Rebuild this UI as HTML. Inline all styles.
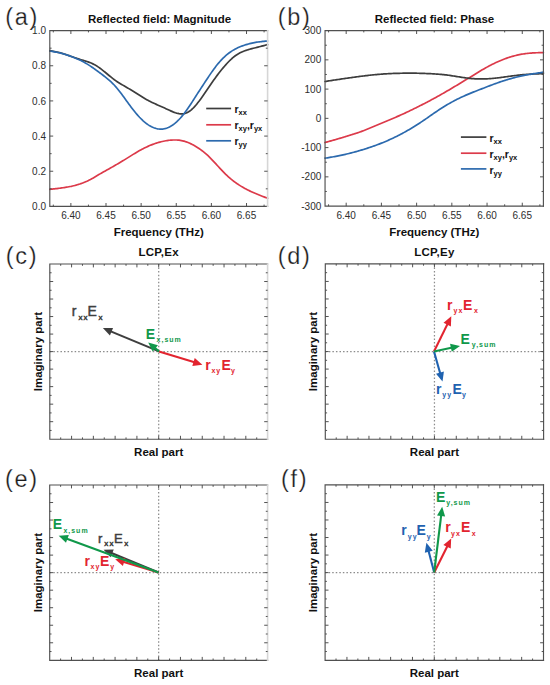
<!DOCTYPE html>
<html><head><meta charset="utf-8"><style>
html,body{margin:0;padding:0;background:#fff;width:550px;height:685px;overflow:hidden}
svg{display:block}
text{font-family:"Liberation Sans",sans-serif}
</style></head><body>
<svg width="550" height="685" viewBox="0 0 550 685">
<rect width="550" height="685" fill="#fff"/>
<text x="22.05" y="24.70" font-size="23.5" font-weight="normal" fill="#1c1c1c" text-anchor="middle" letter-spacing="1.7" stroke="#fff" stroke-width="0.25">(a)</text>
<text x="159.50" y="22.60" font-size="11.5" font-weight="bold" fill="#111" text-anchor="middle" >Reflected field: Magnitude</text>
<path d="M49.80 189.33 L51.00 189.20 L52.19 189.07 L53.39 188.94 L54.59 188.81 L55.78 188.68 L56.98 188.54 L58.18 188.39 L59.37 188.25 L60.57 188.09 L61.77 187.93 L62.96 187.77 L64.16 187.59 L65.36 187.40 L66.55 187.21 L67.75 187.00 L68.95 186.78 L70.14 186.54 L71.34 186.30 L72.54 186.03 L73.73 185.75 L74.93 185.45 L76.13 185.13 L77.32 184.79 L78.52 184.42 L79.72 184.04 L80.91 183.63 L82.11 183.20 L83.31 182.74 L84.50 182.26 L85.70 181.76 L86.90 181.23 L88.09 180.67 L89.29 180.08 L90.49 179.47 L91.68 178.82 L92.88 178.15 L94.08 177.46 L95.27 176.75 L96.47 176.03 L97.67 175.31 L98.86 174.60 L100.06 173.89 L101.26 173.20 L102.45 172.51 L103.65 171.83 L104.85 171.16 L106.05 170.49 L107.24 169.82 L108.44 169.15 L109.64 168.48 L110.83 167.80 L112.03 167.12 L113.23 166.44 L114.42 165.76 L115.62 165.07 L116.82 164.38 L118.01 163.68 L119.21 162.98 L120.41 162.27 L121.60 161.56 L122.80 160.84 L124.00 160.11 L125.19 159.37 L126.39 158.62 L127.59 157.87 L128.78 157.12 L129.98 156.37 L131.18 155.62 L132.37 154.87 L133.57 154.13 L134.77 153.40 L135.96 152.68 L137.16 151.98 L138.36 151.29 L139.55 150.61 L140.75 149.95 L141.95 149.30 L143.14 148.68 L144.34 148.07 L145.54 147.48 L146.73 146.91 L147.93 146.37 L149.13 145.84 L150.32 145.34 L151.52 144.85 L152.72 144.39 L153.91 143.95 L155.11 143.53 L156.31 143.14 L157.50 142.76 L158.70 142.41 L159.90 142.08 L161.09 141.77 L162.29 141.49 L163.49 141.22 L164.68 140.98 L165.88 140.77 L167.08 140.57 L168.27 140.41 L169.47 140.26 L170.67 140.15 L171.86 140.06 L173.06 140.00 L174.26 139.98 L175.45 139.98 L176.65 140.02 L177.85 140.09 L179.04 140.20 L180.24 140.36 L181.44 140.56 L182.63 140.80 L183.83 141.09 L185.03 141.44 L186.22 141.83 L187.42 142.27 L188.62 142.76 L189.81 143.29 L191.01 143.86 L192.21 144.47 L193.40 145.11 L194.60 145.78 L195.80 146.48 L196.99 147.21 L198.19 147.96 L199.39 148.75 L200.58 149.58 L201.78 150.45 L202.98 151.36 L204.17 152.31 L205.37 153.32 L206.57 154.37 L207.76 155.47 L208.96 156.63 L210.16 157.82 L211.35 159.05 L212.55 160.30 L213.75 161.58 L214.95 162.88 L216.14 164.18 L217.34 165.49 L218.54 166.80 L219.73 168.10 L220.93 169.39 L222.13 170.65 L223.32 171.90 L224.52 173.11 L225.72 174.28 L226.91 175.41 L228.11 176.51 L229.31 177.58 L230.50 178.61 L231.70 179.60 L232.90 180.56 L234.09 181.49 L235.29 182.38 L236.49 183.24 L237.68 184.08 L238.88 184.88 L240.08 185.65 L241.27 186.39 L242.47 187.10 L243.67 187.79 L244.86 188.45 L246.06 189.09 L247.26 189.70 L248.45 190.29 L249.65 190.87 L250.85 191.43 L252.04 191.97 L253.24 192.51 L254.44 193.03 L255.63 193.54 L256.83 194.04 L258.03 194.53 L259.22 195.01 L260.42 195.48 L261.62 195.95 L262.81 196.42 L264.01 196.88 L265.21 197.34 L266.40 197.79 L267.60 198.25" stroke="#dc3a4a" stroke-width="1.7" fill="none" stroke-linejoin="round" stroke-linecap="round"/>
<path d="M49.80 50.67 L51.00 50.89 L52.19 51.10 L53.39 51.33 L54.59 51.56 L55.78 51.80 L56.98 52.06 L58.18 52.33 L59.37 52.62 L60.57 52.94 L61.77 53.28 L62.96 53.64 L64.16 54.01 L65.36 54.40 L66.55 54.81 L67.75 55.22 L68.95 55.64 L70.14 56.06 L71.34 56.48 L72.54 56.90 L73.73 57.32 L74.93 57.73 L76.13 58.14 L77.32 58.54 L78.52 58.93 L79.72 59.32 L80.91 59.69 L82.11 60.05 L83.31 60.41 L84.50 60.78 L85.70 61.15 L86.90 61.53 L88.09 61.93 L89.29 62.36 L90.49 62.82 L91.68 63.32 L92.88 63.87 L94.08 64.47 L95.27 65.12 L96.47 65.83 L97.67 66.60 L98.86 67.42 L100.06 68.28 L101.26 69.18 L102.45 70.10 L103.65 71.05 L104.85 72.03 L106.05 73.01 L107.24 74.00 L108.44 74.99 L109.64 75.98 L110.83 76.96 L112.03 77.91 L113.23 78.84 L114.42 79.75 L115.62 80.61 L116.82 81.44 L118.01 82.23 L119.21 82.99 L120.41 83.72 L121.60 84.44 L122.80 85.14 L124.00 85.83 L125.19 86.52 L126.39 87.22 L127.59 87.92 L128.78 88.62 L129.98 89.33 L131.18 90.05 L132.37 90.77 L133.57 91.51 L134.77 92.25 L135.96 93.00 L137.16 93.76 L138.36 94.53 L139.55 95.30 L140.75 96.07 L141.95 96.82 L143.14 97.57 L144.34 98.29 L145.54 98.99 L146.73 99.66 L147.93 100.32 L149.13 100.95 L150.32 101.56 L151.52 102.15 L152.72 102.73 L153.91 103.29 L155.11 103.84 L156.31 104.38 L157.50 104.92 L158.70 105.45 L159.90 105.97 L161.09 106.50 L162.29 107.03 L163.49 107.56 L164.68 108.10 L165.88 108.65 L167.08 109.21 L168.27 109.77 L169.47 110.32 L170.67 110.86 L171.86 111.38 L173.06 111.88 L174.26 112.34 L175.45 112.76 L176.65 113.13 L177.85 113.45 L179.04 113.70 L180.24 113.86 L181.44 113.93 L182.63 113.89 L183.83 113.74 L185.03 113.47 L186.22 113.06 L187.42 112.51 L188.62 111.82 L189.81 111.00 L191.01 110.05 L192.21 109.00 L193.40 107.84 L194.60 106.58 L195.80 105.24 L196.99 103.83 L198.19 102.34 L199.39 100.79 L200.58 99.18 L201.78 97.52 L202.98 95.82 L204.17 94.09 L205.37 92.34 L206.57 90.58 L207.76 88.81 L208.96 87.04 L210.16 85.27 L211.35 83.52 L212.55 81.78 L213.75 80.07 L214.95 78.39 L216.14 76.73 L217.34 75.12 L218.54 73.54 L219.73 72.00 L220.93 70.49 L222.13 69.02 L223.32 67.59 L224.52 66.20 L225.72 64.84 L226.91 63.53 L228.11 62.26 L229.31 61.03 L230.50 59.86 L231.70 58.75 L232.90 57.70 L234.09 56.71 L235.29 55.80 L236.49 54.95 L237.68 54.18 L238.88 53.47 L240.08 52.83 L241.27 52.24 L242.47 51.70 L243.67 51.20 L244.86 50.75 L246.06 50.33 L247.26 49.94 L248.45 49.57 L249.65 49.23 L250.85 48.91 L252.04 48.60 L253.24 48.30 L254.44 48.00 L255.63 47.70 L256.83 47.41 L258.03 47.10 L259.22 46.80 L260.42 46.49 L261.62 46.18 L262.81 45.87 L264.01 45.56 L265.21 45.25 L266.40 44.93 L267.60 44.62" stroke="#3d3d3d" stroke-width="1.7" fill="none" stroke-linejoin="round" stroke-linecap="round"/>
<path d="M49.80 51.07 L51.00 51.26 L52.19 51.44 L53.39 51.64 L54.59 51.84 L55.78 52.05 L56.98 52.28 L58.18 52.52 L59.37 52.79 L60.57 53.07 L61.77 53.38 L62.96 53.71 L64.16 54.06 L65.36 54.44 L66.55 54.82 L67.75 55.23 L68.95 55.65 L70.14 56.08 L71.34 56.52 L72.54 56.97 L73.73 57.44 L74.93 57.92 L76.13 58.42 L77.32 58.93 L78.52 59.47 L79.72 60.02 L80.91 60.60 L82.11 61.21 L83.31 61.84 L84.50 62.49 L85.70 63.17 L86.90 63.88 L88.09 64.61 L89.29 65.38 L90.49 66.16 L91.68 66.97 L92.88 67.80 L94.08 68.64 L95.27 69.49 L96.47 70.34 L97.67 71.21 L98.86 72.08 L100.06 72.97 L101.26 73.87 L102.45 74.78 L103.65 75.71 L104.85 76.65 L106.05 77.60 L107.24 78.58 L108.44 79.59 L109.64 80.63 L110.83 81.71 L112.03 82.84 L113.23 84.03 L114.42 85.28 L115.62 86.60 L116.82 87.99 L118.01 89.44 L119.21 90.95 L120.41 92.51 L121.60 94.10 L122.80 95.72 L124.00 97.36 L125.19 99.01 L126.39 100.66 L127.59 102.30 L128.78 103.93 L129.98 105.55 L131.18 107.14 L132.37 108.71 L133.57 110.24 L134.77 111.74 L135.96 113.19 L137.16 114.60 L138.36 115.96 L139.55 117.27 L140.75 118.51 L141.95 119.70 L143.14 120.83 L144.34 121.88 L145.54 122.87 L146.73 123.79 L147.93 124.63 L149.13 125.40 L150.32 126.10 L151.52 126.73 L152.72 127.29 L153.91 127.78 L155.11 128.19 L156.31 128.53 L157.50 128.80 L158.70 128.99 L159.90 129.09 L161.09 129.12 L162.29 129.06 L163.49 128.92 L164.68 128.69 L165.88 128.38 L167.08 127.99 L168.27 127.51 L169.47 126.95 L170.67 126.31 L171.86 125.58 L173.06 124.76 L174.26 123.87 L175.45 122.89 L176.65 121.84 L177.85 120.70 L179.04 119.49 L180.24 118.21 L181.44 116.85 L182.63 115.41 L183.83 113.91 L185.03 112.35 L186.22 110.72 L187.42 109.04 L188.62 107.30 L189.81 105.51 L191.01 103.69 L192.21 101.85 L193.40 99.98 L194.60 98.11 L195.80 96.25 L196.99 94.39 L198.19 92.54 L199.39 90.69 L200.58 88.85 L201.78 87.01 L202.98 85.18 L204.17 83.36 L205.37 81.54 L206.57 79.72 L207.76 77.91 L208.96 76.12 L210.16 74.36 L211.35 72.62 L212.55 70.92 L213.75 69.26 L214.95 67.64 L216.14 66.08 L217.34 64.58 L218.54 63.13 L219.73 61.74 L220.93 60.41 L222.13 59.13 L223.32 57.92 L224.52 56.77 L225.72 55.69 L226.91 54.66 L228.11 53.70 L229.31 52.79 L230.50 51.94 L231.70 51.13 L232.90 50.38 L234.09 49.68 L235.29 49.02 L236.49 48.40 L237.68 47.83 L238.88 47.29 L240.08 46.78 L241.27 46.31 L242.47 45.86 L243.67 45.44 L244.86 45.05 L246.06 44.67 L247.26 44.32 L248.45 43.99 L249.65 43.67 L250.85 43.38 L252.04 43.11 L253.24 42.85 L254.44 42.62 L255.63 42.40 L256.83 42.21 L258.03 42.03 L259.22 41.87 L260.42 41.72 L261.62 41.58 L262.81 41.45 L264.01 41.34 L265.21 41.22 L266.40 41.11 L267.60 41.01" stroke="#2c6aae" stroke-width="1.7" fill="none" stroke-linejoin="round" stroke-linecap="round"/>
<path d="M267.60 30.60H49.80V206.40H267.60" fill="none" stroke="#505050" stroke-width="1.15" stroke-linecap="square"/>
<path d="M267.60 29.95V207.05" fill="none" stroke="#d6d6d6" stroke-width="1.6"/>
<path d="M53.31 206.40V204.60M53.31 30.60V32.40M70.88 206.40V203.00M70.88 30.60V34.00M88.44 206.40V204.60M88.44 30.60V32.40M106.01 206.40V203.00M106.01 30.60V34.00M123.57 206.40V204.60M123.57 30.60V32.40M141.14 206.40V203.00M141.14 30.60V34.00M158.70 206.40V204.60M158.70 30.60V32.40M176.26 206.40V203.00M176.26 30.60V34.00M193.83 206.40V204.60M193.83 30.60V32.40M211.39 206.40V203.00M211.39 30.60V34.00M228.96 206.40V204.60M228.96 30.60V32.40M246.52 206.40V203.00M246.52 30.60V34.00M264.09 206.40V204.60M264.09 30.60V32.40" stroke="#4a4a4a" stroke-width="0.95" fill="none"/>
<path d="M49.80 188.82H51.60M267.60 188.82H265.80M49.80 171.24H53.20M267.60 171.24H264.20M49.80 153.66H51.60M267.60 153.66H265.80M49.80 136.08H53.20M267.60 136.08H264.20M49.80 118.50H51.60M267.60 118.50H265.80M49.80 100.92H53.20M267.60 100.92H264.20M49.80 83.34H51.60M267.60 83.34H265.80M49.80 65.76H53.20M267.60 65.76H264.20M49.80 48.18H51.60M267.60 48.18H265.80" stroke="#4a4a4a" stroke-width="0.95" fill="none"/>
<text x="46.00" y="210.00" font-size="10" font-weight="normal" fill="#2e2e2e" text-anchor="end" >0.0</text>
<text x="46.00" y="174.84" font-size="10" font-weight="normal" fill="#2e2e2e" text-anchor="end" >0.2</text>
<text x="46.00" y="139.68" font-size="10" font-weight="normal" fill="#2e2e2e" text-anchor="end" >0.4</text>
<text x="46.00" y="104.52" font-size="10" font-weight="normal" fill="#2e2e2e" text-anchor="end" >0.6</text>
<text x="46.00" y="69.36" font-size="10" font-weight="normal" fill="#2e2e2e" text-anchor="end" >0.8</text>
<text x="46.00" y="34.20" font-size="10" font-weight="normal" fill="#2e2e2e" text-anchor="end" >1.0</text>
<text x="70.88" y="218.60" font-size="10" font-weight="normal" fill="#2e2e2e" text-anchor="middle" >6.40</text>
<text x="106.01" y="218.60" font-size="10" font-weight="normal" fill="#2e2e2e" text-anchor="middle" >6.45</text>
<text x="141.14" y="218.60" font-size="10" font-weight="normal" fill="#2e2e2e" text-anchor="middle" >6.50</text>
<text x="176.26" y="218.60" font-size="10" font-weight="normal" fill="#2e2e2e" text-anchor="middle" >6.55</text>
<text x="211.39" y="218.60" font-size="10" font-weight="normal" fill="#2e2e2e" text-anchor="middle" >6.60</text>
<text x="246.52" y="218.60" font-size="10" font-weight="normal" fill="#2e2e2e" text-anchor="middle" >6.65</text>
<text x="158.70" y="236.40" font-size="11.5" font-weight="bold" fill="#111" text-anchor="middle" >Frequency (THz)</text>
<path d="M206.2 108.5H231.1" stroke="#3d3d3d" stroke-width="1.7"/>
<path d="M206.2 124.8H231.1" stroke="#dc3a4a" stroke-width="1.7"/>
<path d="M206.2 140.8H231.1" stroke="#2c6aae" stroke-width="1.7"/>
<text y="112.60" font-size="10.5" font-weight="bold" fill="#111"><tspan x="234.5">r</tspan><tspan font-size="7.5" dy="2.3">xx</tspan></text>
<text y="128.90" font-size="10.5" font-weight="bold" fill="#111"><tspan x="234.5">r</tspan><tspan font-size="7.5" dy="2.3">xy</tspan><tspan dy="-2.3">,r</tspan><tspan font-size="7.5" dy="2.3">yx</tspan></text>
<text y="144.90" font-size="10.5" font-weight="bold" fill="#111"><tspan x="234.5">r</tspan><tspan font-size="7.5" dy="2.3">yy</tspan></text>
<text x="294.55" y="24.70" font-size="23.5" font-weight="normal" fill="#1c1c1c" text-anchor="middle" letter-spacing="1.7" stroke="#fff" stroke-width="0.25">(b)</text>
<text x="434.50" y="22.60" font-size="11.5" font-weight="bold" fill="#111" text-anchor="middle" >Reflected field: Phase</text>
<path d="M325.05 142.53 L326.25 142.19 L327.45 141.86 L328.65 141.52 L329.85 141.18 L331.05 140.84 L332.25 140.50 L333.45 140.16 L334.65 139.82 L335.85 139.48 L337.05 139.13 L338.25 138.78 L339.45 138.43 L340.65 138.08 L341.85 137.73 L343.05 137.38 L344.25 137.02 L345.45 136.66 L346.65 136.29 L347.84 135.92 L349.04 135.55 L350.24 135.18 L351.44 134.80 L352.64 134.42 L353.84 134.03 L355.04 133.64 L356.24 133.24 L357.44 132.84 L358.64 132.43 L359.84 132.01 L361.04 131.59 L362.24 131.15 L363.44 130.70 L364.64 130.25 L365.84 129.78 L367.04 129.30 L368.24 128.82 L369.44 128.33 L370.64 127.83 L371.84 127.33 L373.04 126.82 L374.24 126.31 L375.44 125.80 L376.64 125.29 L377.84 124.77 L379.04 124.26 L380.24 123.75 L381.44 123.24 L382.64 122.73 L383.84 122.22 L385.04 121.71 L386.24 121.21 L387.44 120.70 L388.64 120.20 L389.84 119.69 L391.03 119.19 L392.23 118.69 L393.43 118.18 L394.63 117.67 L395.83 117.16 L397.03 116.65 L398.23 116.13 L399.43 115.61 L400.63 115.07 L401.83 114.54 L403.03 113.99 L404.23 113.44 L405.43 112.88 L406.63 112.31 L407.83 111.74 L409.03 111.17 L410.23 110.59 L411.43 110.01 L412.63 109.42 L413.83 108.83 L415.03 108.24 L416.23 107.65 L417.43 107.05 L418.63 106.45 L419.83 105.85 L421.03 105.24 L422.23 104.63 L423.43 104.02 L424.63 103.40 L425.83 102.78 L427.03 102.15 L428.23 101.52 L429.43 100.89 L430.63 100.25 L431.83 99.61 L433.03 98.96 L434.23 98.31 L435.42 97.65 L436.62 96.99 L437.82 96.33 L439.02 95.66 L440.22 94.98 L441.42 94.31 L442.62 93.62 L443.82 92.94 L445.02 92.25 L446.22 91.55 L447.42 90.85 L448.62 90.15 L449.82 89.45 L451.02 88.74 L452.22 88.03 L453.42 87.32 L454.62 86.60 L455.82 85.89 L457.02 85.17 L458.22 84.45 L459.42 83.72 L460.62 83.00 L461.82 82.28 L463.02 81.55 L464.22 80.82 L465.42 80.09 L466.62 79.36 L467.82 78.63 L469.02 77.89 L470.22 77.16 L471.42 76.42 L472.62 75.68 L473.82 74.94 L475.02 74.20 L476.22 73.46 L477.42 72.73 L478.61 72.00 L479.81 71.28 L481.01 70.56 L482.21 69.85 L483.41 69.15 L484.61 68.47 L485.81 67.79 L487.01 67.12 L488.21 66.47 L489.41 65.83 L490.61 65.20 L491.81 64.58 L493.01 63.98 L494.21 63.39 L495.41 62.82 L496.61 62.26 L497.81 61.72 L499.01 61.19 L500.21 60.67 L501.41 60.17 L502.61 59.69 L503.81 59.23 L505.01 58.78 L506.21 58.34 L507.41 57.92 L508.61 57.52 L509.81 57.14 L511.01 56.77 L512.21 56.42 L513.41 56.08 L514.61 55.76 L515.81 55.46 L517.01 55.18 L518.21 54.91 L519.41 54.66 L520.61 54.42 L521.80 54.20 L523.00 54.00 L524.20 53.81 L525.40 53.64 L526.60 53.49 L527.80 53.35 L529.00 53.23 L530.20 53.12 L531.40 53.03 L532.60 52.95 L533.80 52.88 L535.00 52.82 L536.20 52.77 L537.40 52.73 L538.60 52.69 L539.80 52.66 L541.00 52.63 L542.20 52.60 L543.40 52.58" stroke="#dc3a4a" stroke-width="1.7" fill="none" stroke-linejoin="round" stroke-linecap="round"/>
<path d="M325.05 81.49 L326.25 81.31 L327.45 81.12 L328.65 80.94 L329.85 80.76 L331.05 80.58 L332.25 80.39 L333.45 80.21 L334.65 80.03 L335.85 79.85 L337.05 79.67 L338.25 79.49 L339.45 79.31 L340.65 79.13 L341.85 78.96 L343.05 78.78 L344.25 78.61 L345.45 78.43 L346.65 78.26 L347.84 78.09 L349.04 77.91 L350.24 77.74 L351.44 77.58 L352.64 77.41 L353.84 77.24 L355.04 77.08 L356.24 76.91 L357.44 76.75 L358.64 76.59 L359.84 76.44 L361.04 76.28 L362.24 76.13 L363.44 75.98 L364.64 75.83 L365.84 75.69 L367.04 75.54 L368.24 75.41 L369.44 75.27 L370.64 75.14 L371.84 75.01 L373.04 74.89 L374.24 74.76 L375.44 74.65 L376.64 74.54 L377.84 74.43 L379.04 74.33 L380.24 74.23 L381.44 74.13 L382.64 74.05 L383.84 73.96 L385.04 73.88 L386.24 73.81 L387.44 73.74 L388.64 73.68 L389.84 73.62 L391.03 73.56 L392.23 73.51 L393.43 73.46 L394.63 73.42 L395.83 73.38 L397.03 73.34 L398.23 73.31 L399.43 73.28 L400.63 73.25 L401.83 73.23 L403.03 73.21 L404.23 73.19 L405.43 73.18 L406.63 73.17 L407.83 73.17 L409.03 73.16 L410.23 73.17 L411.43 73.17 L412.63 73.18 L413.83 73.19 L415.03 73.20 L416.23 73.22 L417.43 73.24 L418.63 73.27 L419.83 73.30 L421.03 73.33 L422.23 73.37 L423.43 73.40 L424.63 73.45 L425.83 73.49 L427.03 73.54 L428.23 73.59 L429.43 73.64 L430.63 73.70 L431.83 73.77 L433.03 73.83 L434.23 73.90 L435.42 73.98 L436.62 74.06 L437.82 74.15 L439.02 74.24 L440.22 74.34 L441.42 74.45 L442.62 74.56 L443.82 74.69 L445.02 74.82 L446.22 74.96 L447.42 75.10 L448.62 75.26 L449.82 75.43 L451.02 75.60 L452.22 75.79 L453.42 75.97 L454.62 76.16 L455.82 76.36 L457.02 76.55 L458.22 76.75 L459.42 76.94 L460.62 77.14 L461.82 77.33 L463.02 77.51 L464.22 77.69 L465.42 77.86 L466.62 78.02 L467.82 78.17 L469.02 78.31 L470.22 78.43 L471.42 78.54 L472.62 78.64 L473.82 78.72 L475.02 78.80 L476.22 78.86 L477.42 78.90 L478.61 78.94 L479.81 78.96 L481.01 78.97 L482.21 78.96 L483.41 78.94 L484.61 78.91 L485.81 78.87 L487.01 78.82 L488.21 78.75 L489.41 78.68 L490.61 78.59 L491.81 78.49 L493.01 78.39 L494.21 78.27 L495.41 78.15 L496.61 78.02 L497.81 77.88 L499.01 77.73 L500.21 77.58 L501.41 77.43 L502.61 77.26 L503.81 77.10 L505.01 76.93 L506.21 76.76 L507.41 76.60 L508.61 76.43 L509.81 76.26 L511.01 76.10 L512.21 75.93 L513.41 75.78 L514.61 75.62 L515.81 75.48 L517.01 75.34 L518.21 75.20 L519.41 75.07 L520.61 74.95 L521.80 74.83 L523.00 74.72 L524.20 74.61 L525.40 74.51 L526.60 74.42 L527.80 74.33 L529.00 74.25 L530.20 74.18 L531.40 74.11 L532.60 74.04 L533.80 73.98 L535.00 73.93 L536.20 73.88 L537.40 73.83 L538.60 73.78 L539.80 73.74 L541.00 73.69 L542.20 73.65 L543.40 73.61" stroke="#3d3d3d" stroke-width="1.7" fill="none" stroke-linejoin="round" stroke-linecap="round"/>
<path d="M325.05 158.20 L326.25 158.00 L327.45 157.80 L328.65 157.60 L329.85 157.39 L331.05 157.18 L332.25 156.97 L333.45 156.76 L334.65 156.54 L335.85 156.32 L337.05 156.09 L338.25 155.85 L339.45 155.61 L340.65 155.37 L341.85 155.11 L343.05 154.85 L344.25 154.59 L345.45 154.31 L346.65 154.03 L347.84 153.75 L349.04 153.46 L350.24 153.16 L351.44 152.85 L352.64 152.54 L353.84 152.22 L355.04 151.90 L356.24 151.57 L357.44 151.23 L358.64 150.89 L359.84 150.54 L361.04 150.18 L362.24 149.82 L363.44 149.46 L364.64 149.08 L365.84 148.70 L367.04 148.32 L368.24 147.93 L369.44 147.53 L370.64 147.13 L371.84 146.72 L373.04 146.30 L374.24 145.88 L375.44 145.44 L376.64 145.00 L377.84 144.56 L379.04 144.10 L380.24 143.64 L381.44 143.16 L382.64 142.68 L383.84 142.19 L385.04 141.69 L386.24 141.18 L387.44 140.66 L388.64 140.13 L389.84 139.59 L391.03 139.04 L392.23 138.48 L393.43 137.92 L394.63 137.34 L395.83 136.76 L397.03 136.16 L398.23 135.56 L399.43 134.94 L400.63 134.32 L401.83 133.68 L403.03 133.04 L404.23 132.38 L405.43 131.72 L406.63 131.04 L407.83 130.35 L409.03 129.66 L410.23 128.95 L411.43 128.23 L412.63 127.51 L413.83 126.77 L415.03 126.03 L416.23 125.27 L417.43 124.51 L418.63 123.74 L419.83 122.95 L421.03 122.16 L422.23 121.36 L423.43 120.56 L424.63 119.74 L425.83 118.92 L427.03 118.09 L428.23 117.25 L429.43 116.41 L430.63 115.57 L431.83 114.74 L433.03 113.90 L434.23 113.07 L435.42 112.25 L436.62 111.43 L437.82 110.63 L439.02 109.83 L440.22 109.05 L441.42 108.28 L442.62 107.52 L443.82 106.77 L445.02 106.03 L446.22 105.31 L447.42 104.59 L448.62 103.89 L449.82 103.21 L451.02 102.53 L452.22 101.87 L453.42 101.22 L454.62 100.59 L455.82 99.97 L457.02 99.36 L458.22 98.76 L459.42 98.17 L460.62 97.60 L461.82 97.03 L463.02 96.48 L464.22 95.93 L465.42 95.40 L466.62 94.87 L467.82 94.36 L469.02 93.85 L470.22 93.35 L471.42 92.86 L472.62 92.37 L473.82 91.89 L475.02 91.42 L476.22 90.95 L477.42 90.48 L478.61 90.02 L479.81 89.55 L481.01 89.09 L482.21 88.63 L483.41 88.17 L484.61 87.71 L485.81 87.25 L487.01 86.79 L488.21 86.33 L489.41 85.87 L490.61 85.42 L491.81 84.96 L493.01 84.51 L494.21 84.07 L495.41 83.63 L496.61 83.19 L497.81 82.76 L499.01 82.34 L500.21 81.92 L501.41 81.52 L502.61 81.12 L503.81 80.73 L505.01 80.34 L506.21 79.97 L507.41 79.61 L508.61 79.25 L509.81 78.90 L511.01 78.56 L512.21 78.23 L513.41 77.91 L514.61 77.60 L515.81 77.30 L517.01 77.00 L518.21 76.72 L519.41 76.44 L520.61 76.17 L521.80 75.91 L523.00 75.66 L524.20 75.41 L525.40 75.18 L526.60 74.94 L527.80 74.72 L529.00 74.50 L530.20 74.29 L531.40 74.08 L532.60 73.88 L533.80 73.68 L535.00 73.49 L536.20 73.30 L537.40 73.12 L538.60 72.93 L539.80 72.75 L541.00 72.57 L542.20 72.39 L543.40 72.21" stroke="#2c6aae" stroke-width="1.7" fill="none" stroke-linejoin="round" stroke-linecap="round"/>
<path d="M543.40 30.60H325.05V206.10H543.40" fill="none" stroke="#505050" stroke-width="1.15" stroke-linecap="square"/>
<path d="M543.40 29.95V206.75" fill="none" stroke="#505050" stroke-width="1.15"/>
<path d="M328.57 206.10V204.30M328.57 30.60V32.40M346.18 206.10V202.70M346.18 30.60V34.00M363.79 206.10V204.30M363.79 30.60V32.40M381.40 206.10V202.70M381.40 30.60V34.00M399.01 206.10V204.30M399.01 30.60V32.40M416.62 206.10V202.70M416.62 30.60V34.00M434.23 206.10V204.30M434.23 30.60V32.40M451.83 206.10V202.70M451.83 30.60V34.00M469.44 206.10V204.30M469.44 30.60V32.40M487.05 206.10V202.70M487.05 30.60V34.00M504.66 206.10V204.30M504.66 30.60V32.40M522.27 206.10V202.70M522.27 30.60V34.00M539.88 206.10V204.30M539.88 30.60V32.40" stroke="#4a4a4a" stroke-width="0.95" fill="none"/>
<path d="M325.05 191.47H326.85M543.40 191.47H541.60M325.05 176.85H328.45M543.40 176.85H540.00M325.05 162.22H326.85M543.40 162.22H541.60M325.05 147.60H328.45M543.40 147.60H540.00M325.05 132.97H326.85M543.40 132.97H541.60M325.05 118.35H328.45M543.40 118.35H540.00M325.05 103.72H326.85M543.40 103.72H541.60M325.05 89.10H328.45M543.40 89.10H540.00M325.05 74.47H326.85M543.40 74.47H541.60M325.05 59.85H328.45M543.40 59.85H540.00M325.05 45.22H326.85M543.40 45.22H541.60" stroke="#4a4a4a" stroke-width="0.95" fill="none"/>
<text x="321.25" y="209.70" font-size="10" font-weight="normal" fill="#2e2e2e" text-anchor="end" >-300</text>
<text x="321.25" y="180.45" font-size="10" font-weight="normal" fill="#2e2e2e" text-anchor="end" >-200</text>
<text x="321.25" y="151.20" font-size="10" font-weight="normal" fill="#2e2e2e" text-anchor="end" >-100</text>
<text x="321.25" y="121.95" font-size="10" font-weight="normal" fill="#2e2e2e" text-anchor="end" >0</text>
<text x="321.25" y="92.70" font-size="10" font-weight="normal" fill="#2e2e2e" text-anchor="end" >100</text>
<text x="321.25" y="63.45" font-size="10" font-weight="normal" fill="#2e2e2e" text-anchor="end" >200</text>
<text x="321.25" y="34.20" font-size="10" font-weight="normal" fill="#2e2e2e" text-anchor="end" >300</text>
<text x="346.18" y="218.60" font-size="10" font-weight="normal" fill="#2e2e2e" text-anchor="middle" >6.40</text>
<text x="381.40" y="218.60" font-size="10" font-weight="normal" fill="#2e2e2e" text-anchor="middle" >6.45</text>
<text x="416.62" y="218.60" font-size="10" font-weight="normal" fill="#2e2e2e" text-anchor="middle" >6.50</text>
<text x="451.83" y="218.60" font-size="10" font-weight="normal" fill="#2e2e2e" text-anchor="middle" >6.55</text>
<text x="487.05" y="218.60" font-size="10" font-weight="normal" fill="#2e2e2e" text-anchor="middle" >6.60</text>
<text x="522.27" y="218.60" font-size="10" font-weight="normal" fill="#2e2e2e" text-anchor="middle" >6.65</text>
<text x="434.23" y="236.40" font-size="11.5" font-weight="bold" fill="#111" text-anchor="middle" >Frequency (THz)</text>
<path d="M460.9 137.1H486.4" stroke="#3d3d3d" stroke-width="1.7"/>
<path d="M460.9 153.2H486.4" stroke="#dc3a4a" stroke-width="1.7"/>
<path d="M460.9 168.9H486.4" stroke="#2c6aae" stroke-width="1.7"/>
<text y="141.70" font-size="10.5" font-weight="bold" fill="#111"><tspan x="489.5">r</tspan><tspan font-size="7.5" dy="2.3">xx</tspan></text>
<text y="157.80" font-size="10.5" font-weight="bold" fill="#111"><tspan x="489.5">r</tspan><tspan font-size="7.5" dy="2.3">xy</tspan><tspan dy="-2.3">,r</tspan><tspan font-size="7.5" dy="2.3">yx</tspan></text>
<text y="173.50" font-size="10.5" font-weight="bold" fill="#111"><tspan x="489.5">r</tspan><tspan font-size="7.5" dy="2.3">yy</tspan></text>
<text x="22.05" y="264.00" font-size="23.5" font-weight="normal" fill="#1c1c1c" text-anchor="middle" letter-spacing="1.7" stroke="#fff" stroke-width="0.25">(c)</text>
<text x="158.70" y="255.60" font-size="11.5" font-weight="bold" fill="#111" text-anchor="middle" letter-spacing="0.3">LCP,Ex</text>
<path d="M158.70 264.00V439.20M49.80 351.60H267.60" stroke="#8c8c8c" stroke-width="1.25" stroke-dasharray="1.5 2.05" fill="none"/>
<path d="M267.60 264.00H49.80V439.20H267.60" fill="none" stroke="#505050" stroke-width="1.15" stroke-linecap="square"/>
<path d="M267.60 263.35V439.85" fill="none" stroke="#d6d6d6" stroke-width="1.6"/>
<path d="M60.69 439.20V437.40M60.69 264.00V265.80M71.58 439.20V435.80M71.58 264.00V267.40M82.47 439.20V437.40M82.47 264.00V265.80M93.36 439.20V435.80M93.36 264.00V267.40M104.25 439.20V437.40M104.25 264.00V265.80M115.14 439.20V435.80M115.14 264.00V267.40M126.03 439.20V437.40M126.03 264.00V265.80M136.92 439.20V435.80M136.92 264.00V267.40M147.81 439.20V437.40M147.81 264.00V265.80M158.70 439.20V435.80M158.70 264.00V267.40M169.59 439.20V437.40M169.59 264.00V265.80M180.48 439.20V435.80M180.48 264.00V267.40M191.37 439.20V437.40M191.37 264.00V265.80M202.26 439.20V435.80M202.26 264.00V267.40M213.15 439.20V437.40M213.15 264.00V265.80M224.04 439.20V435.80M224.04 264.00V267.40M234.93 439.20V437.40M234.93 264.00V265.80M245.82 439.20V435.80M245.82 264.00V267.40M256.71 439.20V437.40M256.71 264.00V265.80" stroke="#4a4a4a" stroke-width="0.95" fill="none"/>
<path d="M49.80 272.76H51.60M267.60 272.76H265.80M49.80 281.52H53.20M267.60 281.52H264.20M49.80 290.28H51.60M267.60 290.28H265.80M49.80 299.04H53.20M267.60 299.04H264.20M49.80 307.80H51.60M267.60 307.80H265.80M49.80 316.56H53.20M267.60 316.56H264.20M49.80 325.32H51.60M267.60 325.32H265.80M49.80 334.08H53.20M267.60 334.08H264.20M49.80 342.84H51.60M267.60 342.84H265.80M49.80 351.60H53.20M267.60 351.60H264.20M49.80 360.36H51.60M267.60 360.36H265.80M49.80 369.12H53.20M267.60 369.12H264.20M49.80 377.88H51.60M267.60 377.88H265.80M49.80 386.64H53.20M267.60 386.64H264.20M49.80 395.40H51.60M267.60 395.40H265.80M49.80 404.16H53.20M267.60 404.16H264.20M49.80 412.92H51.60M267.60 412.92H265.80M49.80 421.68H53.20M267.60 421.68H264.20M49.80 430.44H51.60M267.60 430.44H265.80" stroke="#4a4a4a" stroke-width="0.95" fill="none"/>
<text x="158.70" y="455.80" font-size="11.5" font-weight="bold" fill="#111" text-anchor="middle" >Real part</text>
<text transform="translate(41.80,351.60) rotate(-90)" x="0" y="0" font-size="11.5" font-weight="bold" fill="#111" text-anchor="middle">Imaginary part</text>
<path d="M159.00 351.40L108.91 330.60" stroke="#3e3e3e" stroke-width="2.1" fill="none"/>
<path d="M102.90 328.10L113.06 327.88L109.92 335.45Z" fill="#3e3e3e"/>
<path d="M159.00 351.40L196.18 362.79" stroke="#e2242f" stroke-width="2.1" fill="none"/>
<path d="M202.40 364.70L192.31 365.90L194.71 358.06Z" fill="#e2242f"/>
<path d="M159.00 351.40L153.20 346.57" stroke="#10984a" stroke-width="2.1" fill="none"/>
<path d="M148.20 342.40L157.97 345.20L152.72 351.50Z" fill="#10984a"/>
<text x="71.80" y="316.40" font-size="14" font-weight="normal" fill="#3e3e3e" stroke="#3e3e3e" stroke-width="0.45">r</text>
<text x="78.40" y="319.80" font-size="8" font-weight="normal" fill="#3e3e3e" letter-spacing="1.1" stroke="#3e3e3e" stroke-width="0.45">xx</text>
<text x="87.60" y="316.40" font-size="14" font-weight="normal" fill="#3e3e3e" stroke="#3e3e3e" stroke-width="0.45">E</text>
<text x="98.40" y="319.80" font-size="8" font-weight="normal" fill="#3e3e3e" letter-spacing="1.1" stroke="#3e3e3e" stroke-width="0.45">x</text>
<text x="145.80" y="338.80" font-size="14" font-weight="bold" fill="#10984a">E</text>
<text x="156.60" y="342.20" font-size="7" font-weight="bold" fill="#10984a" letter-spacing="1.0">x,sum</text>
<text x="205.30" y="369.60" font-size="14" font-weight="bold" fill="#e2242f">r</text>
<text x="211.40" y="373.00" font-size="7" font-weight="bold" fill="#e2242f" letter-spacing="1.0">xy</text>
<text x="221.50" y="369.60" font-size="14" font-weight="bold" fill="#e2242f">E</text>
<text x="231.10" y="373.00" font-size="7" font-weight="bold" fill="#e2242f" letter-spacing="1.0">y</text>
<text x="294.55" y="264.20" font-size="23.5" font-weight="normal" fill="#1c1c1c" text-anchor="middle" letter-spacing="1.7" stroke="#fff" stroke-width="0.25">(d)</text>
<text x="434.45" y="255.50" font-size="11.5" font-weight="bold" fill="#111" text-anchor="middle" letter-spacing="0.3">LCP,Ey</text>
<path d="M434.45 263.90V439.20M325.30 351.55H543.60" stroke="#8c8c8c" stroke-width="1.25" stroke-dasharray="1.5 2.05" fill="none"/>
<path d="M543.60 263.90H325.30V439.20H543.60" fill="none" stroke="#505050" stroke-width="1.15" stroke-linecap="square"/>
<path d="M543.60 263.25V439.85" fill="none" stroke="#505050" stroke-width="1.15"/>
<path d="M336.22 439.20V437.40M336.22 263.90V265.70M347.13 439.20V435.80M347.13 263.90V267.30M358.05 439.20V437.40M358.05 263.90V265.70M368.96 439.20V435.80M368.96 263.90V267.30M379.88 439.20V437.40M379.88 263.90V265.70M390.79 439.20V435.80M390.79 263.90V267.30M401.71 439.20V437.40M401.71 263.90V265.70M412.62 439.20V435.80M412.62 263.90V267.30M423.54 439.20V437.40M423.54 263.90V265.70M434.45 439.20V435.80M434.45 263.90V267.30M445.37 439.20V437.40M445.37 263.90V265.70M456.28 439.20V435.80M456.28 263.90V267.30M467.20 439.20V437.40M467.20 263.90V265.70M478.11 439.20V435.80M478.11 263.90V267.30M489.02 439.20V437.40M489.02 263.90V265.70M499.94 439.20V435.80M499.94 263.90V267.30M510.86 439.20V437.40M510.86 263.90V265.70M521.77 439.20V435.80M521.77 263.90V267.30M532.68 439.20V437.40M532.68 263.90V265.70" stroke="#4a4a4a" stroke-width="0.95" fill="none"/>
<path d="M325.30 272.66H327.10M543.60 272.66H541.80M325.30 281.43H328.70M543.60 281.43H540.20M325.30 290.19H327.10M543.60 290.19H541.80M325.30 298.96H328.70M543.60 298.96H540.20M325.30 307.72H327.10M543.60 307.72H541.80M325.30 316.49H328.70M543.60 316.49H540.20M325.30 325.25H327.10M543.60 325.25H541.80M325.30 334.02H328.70M543.60 334.02H540.20M325.30 342.78H327.10M543.60 342.78H541.80M325.30 351.55H328.70M543.60 351.55H540.20M325.30 360.31H327.10M543.60 360.31H541.80M325.30 369.08H328.70M543.60 369.08H540.20M325.30 377.84H327.10M543.60 377.84H541.80M325.30 386.61H328.70M543.60 386.61H540.20M325.30 395.38H327.10M543.60 395.38H541.80M325.30 404.14H328.70M543.60 404.14H540.20M325.30 412.90H327.10M543.60 412.90H541.80M325.30 421.67H328.70M543.60 421.67H540.20M325.30 430.44H327.10M543.60 430.44H541.80" stroke="#4a4a4a" stroke-width="0.95" fill="none"/>
<text x="434.45" y="455.80" font-size="11.5" font-weight="bold" fill="#111" text-anchor="middle" >Real part</text>
<text transform="translate(317.30,351.55) rotate(-90)" x="0" y="0" font-size="11.5" font-weight="bold" fill="#111" text-anchor="middle">Imaginary part</text>
<path d="M434.00 351.50L440.73 375.24" stroke="#1f62b0" stroke-width="2.1" fill="none"/>
<path d="M442.50 381.50L436.02 373.67L443.91 371.43Z" fill="#1f62b0"/>
<path d="M434.00 351.50L448.43 322.14" stroke="#e2242f" stroke-width="2.1" fill="none"/>
<path d="M451.30 316.30L450.88 326.45L443.52 322.84Z" fill="#e2242f"/>
<path d="M434.00 351.50L453.64 347.27" stroke="#10984a" stroke-width="2.1" fill="none"/>
<path d="M460.00 345.90L451.77 351.87L450.05 343.85Z" fill="#10984a"/>
<text x="446.90" y="309.70" font-size="14" font-weight="bold" fill="#e2242f">r</text>
<text x="453.60" y="313.10" font-size="7" font-weight="bold" fill="#e2242f" letter-spacing="1.0">yx</text>
<text x="463.00" y="309.70" font-size="14" font-weight="bold" fill="#e2242f">E</text>
<text x="474.00" y="313.10" font-size="7" font-weight="bold" fill="#e2242f" letter-spacing="1.0">x</text>
<text x="460.60" y="343.50" font-size="14" font-weight="bold" fill="#10984a">E</text>
<text x="471.80" y="346.90" font-size="7" font-weight="bold" fill="#10984a" letter-spacing="1.0">y,sum</text>
<text x="435.90" y="393.90" font-size="14" font-weight="bold" fill="#1f62b0">r</text>
<text x="442.30" y="397.30" font-size="7" font-weight="bold" fill="#1f62b0" letter-spacing="1.0">yy</text>
<text x="452.40" y="393.90" font-size="14" font-weight="bold" fill="#1f62b0">E</text>
<text x="461.90" y="397.30" font-size="7" font-weight="bold" fill="#1f62b0" letter-spacing="1.0">y</text>
<text x="21.85" y="487.00" font-size="23.5" font-weight="normal" fill="#1c1c1c" text-anchor="middle" letter-spacing="1.7" stroke="#fff" stroke-width="0.25">(e)</text>
<path d="M158.65 485.00V660.30M49.70 572.65H267.60" stroke="#8c8c8c" stroke-width="1.25" stroke-dasharray="1.5 2.05" fill="none"/>
<path d="M267.60 485.00H49.70V660.30H267.60" fill="none" stroke="#505050" stroke-width="1.15" stroke-linecap="square"/>
<path d="M267.60 484.35V660.95" fill="none" stroke="#d6d6d6" stroke-width="1.6"/>
<path d="M60.60 660.30V658.50M60.60 485.00V486.80M71.49 660.30V656.90M71.49 485.00V488.40M82.39 660.30V658.50M82.39 485.00V486.80M93.28 660.30V656.90M93.28 485.00V488.40M104.18 660.30V658.50M104.18 485.00V486.80M115.07 660.30V656.90M115.07 485.00V488.40M125.97 660.30V658.50M125.97 485.00V486.80M136.86 660.30V656.90M136.86 485.00V488.40M147.76 660.30V658.50M147.76 485.00V486.80M158.65 660.30V656.90M158.65 485.00V488.40M169.55 660.30V658.50M169.55 485.00V486.80M180.44 660.30V656.90M180.44 485.00V488.40M191.34 660.30V658.50M191.34 485.00V486.80M202.23 660.30V656.90M202.23 485.00V488.40M213.12 660.30V658.50M213.12 485.00V486.80M224.02 660.30V656.90M224.02 485.00V488.40M234.92 660.30V658.50M234.92 485.00V486.80M245.81 660.30V656.90M245.81 485.00V488.40M256.71 660.30V658.50M256.71 485.00V486.80" stroke="#4a4a4a" stroke-width="0.95" fill="none"/>
<path d="M49.70 493.76H51.50M267.60 493.76H265.80M49.70 502.53H53.10M267.60 502.53H264.20M49.70 511.30H51.50M267.60 511.30H265.80M49.70 520.06H53.10M267.60 520.06H264.20M49.70 528.83H51.50M267.60 528.83H265.80M49.70 537.59H53.10M267.60 537.59H264.20M49.70 546.36H51.50M267.60 546.36H265.80M49.70 555.12H53.10M267.60 555.12H264.20M49.70 563.88H51.50M267.60 563.88H265.80M49.70 572.65H53.10M267.60 572.65H264.20M49.70 581.41H51.50M267.60 581.41H265.80M49.70 590.18H53.10M267.60 590.18H264.20M49.70 598.94H51.50M267.60 598.94H265.80M49.70 607.71H53.10M267.60 607.71H264.20M49.70 616.47H51.50M267.60 616.47H265.80M49.70 625.24H53.10M267.60 625.24H264.20M49.70 634.00H51.50M267.60 634.00H265.80M49.70 642.77H53.10M267.60 642.77H264.20M49.70 651.53H51.50M267.60 651.53H265.80" stroke="#4a4a4a" stroke-width="0.95" fill="none"/>
<text x="158.65" y="676.90" font-size="11.5" font-weight="bold" fill="#111" text-anchor="middle" >Real part</text>
<text transform="translate(41.70,572.65) rotate(-90)" x="0" y="0" font-size="11.5" font-weight="bold" fill="#111" text-anchor="middle">Imaginary part</text>
<path d="M158.60 572.50L109.62 552.28" stroke="#3e3e3e" stroke-width="2.1" fill="none"/>
<path d="M103.60 549.80L113.76 549.56L110.63 557.14Z" fill="#3e3e3e"/>
<path d="M158.60 572.50L121.43 561.19" stroke="#e2242f" stroke-width="2.1" fill="none"/>
<path d="M115.20 559.30L125.29 558.08L122.90 565.93Z" fill="#e2242f"/>
<path d="M158.60 572.50L64.81 537.95" stroke="#10984a" stroke-width="2.1" fill="none"/>
<path d="M58.70 535.70L68.84 535.07L66.01 542.76Z" fill="#10984a"/>
<text x="52.80" y="529.20" font-size="14" font-weight="bold" fill="#10984a">E</text>
<text x="63.40" y="532.60" font-size="7" font-weight="bold" fill="#10984a" letter-spacing="1.0">x,sum</text>
<text x="98.10" y="543.00" font-size="13" font-weight="normal" fill="#3e3e3e" stroke="#3e3e3e" stroke-width="0.45">r</text>
<text x="104.30" y="546.40" font-size="8" font-weight="normal" fill="#3e3e3e" letter-spacing="1.1" stroke="#3e3e3e" stroke-width="0.45">xx</text>
<text x="114.00" y="543.00" font-size="13" font-weight="normal" fill="#3e3e3e" stroke="#3e3e3e" stroke-width="0.45">E</text>
<text x="124.30" y="546.40" font-size="8" font-weight="normal" fill="#3e3e3e" letter-spacing="1.1" stroke="#3e3e3e" stroke-width="0.45">x</text>
<text x="84.50" y="566.00" font-size="14" font-weight="bold" fill="#e2242f">r</text>
<text x="90.60" y="569.40" font-size="7" font-weight="bold" fill="#e2242f" letter-spacing="1.0">xy</text>
<text x="99.90" y="566.00" font-size="14" font-weight="bold" fill="#e2242f">E</text>
<text x="110.30" y="569.40" font-size="7" font-weight="bold" fill="#e2242f" letter-spacing="1.0">y</text>
<text x="294.55" y="487.00" font-size="23.5" font-weight="normal" fill="#1c1c1c" text-anchor="middle" letter-spacing="1.7" stroke="#fff" stroke-width="0.25">(f)</text>
<path d="M434.30 484.90V660.30M325.10 572.60H543.50" stroke="#8c8c8c" stroke-width="1.25" stroke-dasharray="1.5 2.05" fill="none"/>
<path d="M543.50 484.90H325.10V660.30H543.50" fill="none" stroke="#505050" stroke-width="1.15" stroke-linecap="square"/>
<path d="M543.50 484.25V660.95" fill="none" stroke="#505050" stroke-width="1.15"/>
<path d="M336.02 660.30V658.50M336.02 484.90V486.70M346.94 660.30V656.90M346.94 484.90V488.30M357.86 660.30V658.50M357.86 484.90V486.70M368.78 660.30V656.90M368.78 484.90V488.30M379.70 660.30V658.50M379.70 484.90V486.70M390.62 660.30V656.90M390.62 484.90V488.30M401.54 660.30V658.50M401.54 484.90V486.70M412.46 660.30V656.90M412.46 484.90V488.30M423.38 660.30V658.50M423.38 484.90V486.70M434.30 660.30V656.90M434.30 484.90V488.30M445.22 660.30V658.50M445.22 484.90V486.70M456.14 660.30V656.90M456.14 484.90V488.30M467.06 660.30V658.50M467.06 484.90V486.70M477.98 660.30V656.90M477.98 484.90V488.30M488.90 660.30V658.50M488.90 484.90V486.70M499.82 660.30V656.90M499.82 484.90V488.30M510.74 660.30V658.50M510.74 484.90V486.70M521.66 660.30V656.90M521.66 484.90V488.30M532.58 660.30V658.50M532.58 484.90V486.70" stroke="#4a4a4a" stroke-width="0.95" fill="none"/>
<path d="M325.10 493.67H326.90M543.50 493.67H541.70M325.10 502.44H328.50M543.50 502.44H540.10M325.10 511.21H326.90M543.50 511.21H541.70M325.10 519.98H328.50M543.50 519.98H540.10M325.10 528.75H326.90M543.50 528.75H541.70M325.10 537.52H328.50M543.50 537.52H540.10M325.10 546.29H326.90M543.50 546.29H541.70M325.10 555.06H328.50M543.50 555.06H540.10M325.10 563.83H326.90M543.50 563.83H541.70M325.10 572.60H328.50M543.50 572.60H540.10M325.10 581.37H326.90M543.50 581.37H541.70M325.10 590.14H328.50M543.50 590.14H540.10M325.10 598.91H326.90M543.50 598.91H541.70M325.10 607.68H328.50M543.50 607.68H540.10M325.10 616.45H326.90M543.50 616.45H541.70M325.10 625.22H328.50M543.50 625.22H540.10M325.10 633.99H326.90M543.50 633.99H541.70M325.10 642.76H328.50M543.50 642.76H540.10M325.10 651.53H326.90M543.50 651.53H541.70" stroke="#4a4a4a" stroke-width="0.95" fill="none"/>
<text x="434.30" y="676.90" font-size="11.5" font-weight="bold" fill="#111" text-anchor="middle" >Real part</text>
<text transform="translate(317.10,572.60) rotate(-90)" x="0" y="0" font-size="11.5" font-weight="bold" fill="#111" text-anchor="middle">Imaginary part</text>
<path d="M434.20 572.50L428.05 549.10" stroke="#1f62b0" stroke-width="2.1" fill="none"/>
<path d="M426.40 542.80L432.73 550.75L424.80 552.84Z" fill="#1f62b0"/>
<path d="M434.20 572.50L448.30 544.23" stroke="#e2242f" stroke-width="2.1" fill="none"/>
<path d="M451.20 538.40L450.72 548.55L443.38 544.89Z" fill="#e2242f"/>
<path d="M434.20 572.50L441.41 513.26" stroke="#10984a" stroke-width="2.1" fill="none"/>
<path d="M442.20 506.80L445.15 516.53L437.01 515.54Z" fill="#10984a"/>
<text x="436.10" y="501.70" font-size="14" font-weight="bold" fill="#10984a">E</text>
<text x="446.30" y="505.10" font-size="7" font-weight="bold" fill="#10984a" letter-spacing="1.0">y,sum</text>
<text x="401.30" y="535.20" font-size="14" font-weight="bold" fill="#1f62b0">r</text>
<text x="407.80" y="538.60" font-size="7" font-weight="bold" fill="#1f62b0" letter-spacing="1.0">yy</text>
<text x="416.50" y="535.20" font-size="14" font-weight="bold" fill="#1f62b0">E</text>
<text x="426.70" y="538.60" font-size="7" font-weight="bold" fill="#1f62b0" letter-spacing="1.0">y</text>
<text x="445.30" y="532.30" font-size="14" font-weight="bold" fill="#e2242f">r</text>
<text x="451.00" y="535.70" font-size="7" font-weight="bold" fill="#e2242f" letter-spacing="1.0">yx</text>
<text x="461.00" y="532.30" font-size="14" font-weight="bold" fill="#e2242f">E</text>
<text x="471.80" y="535.70" font-size="7" font-weight="bold" fill="#e2242f" letter-spacing="1.0">x</text>
</svg></body></html>
